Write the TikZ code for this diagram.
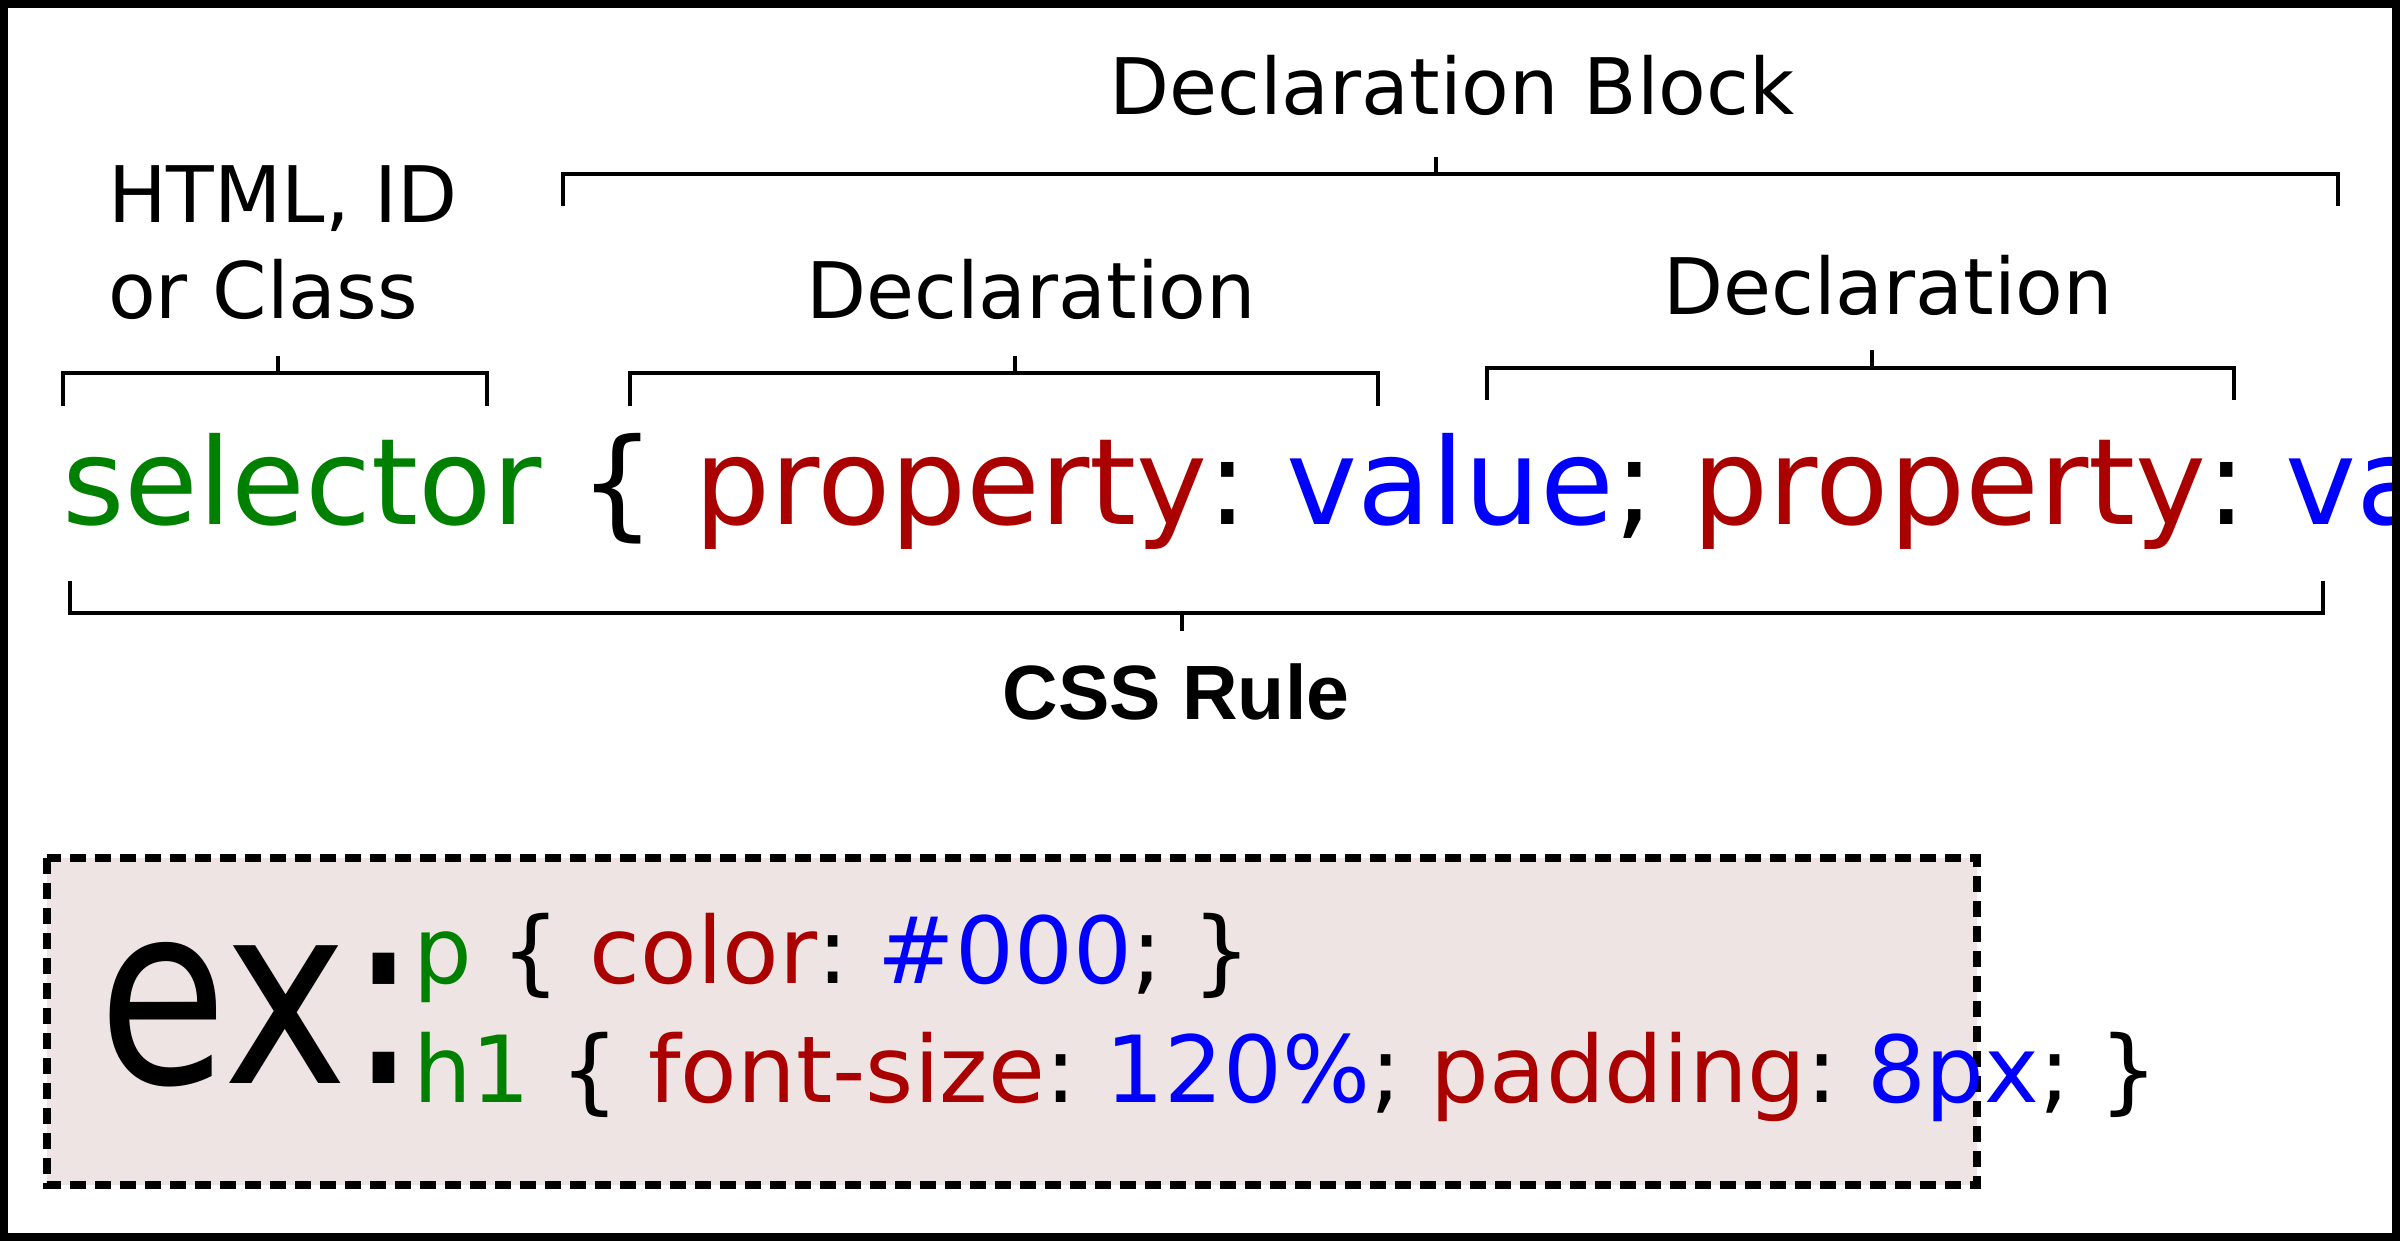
\documentclass[tikz,border=0pt]{standalone}
\usepackage{fontspec}
\setmainfont{DejaVu Sans}
\newfontfamily\rulefont{Liberation Sans}
\definecolor{selgreen}{HTML}{008000}
\definecolor{propred}{HTML}{AA0000}
\definecolor{valblue}{HTML}{0000FF}
\definecolor{boxfill}{HTML}{EEE4E4}
\newcommand{\csssel}[1]{\textcolor{selgreen}{#1}}
\newcommand{\cssprop}[1]{\textcolor{propred}{#1}}
\newcommand{\cssval}[1]{\textcolor{valblue}{#1}}
\frenchspacing
\begin{document}
\begin{tikzpicture}[x=1pt, y=-1pt,
    brk/.style={line width=3.5pt},
    lbl/.style={inner sep=0pt, anchor=base, font=\fontsize{78}{94}\selectfont},
    code/.style={inner sep=0pt, anchor=base west, font=\fontsize{92.5}{111}\selectfont}]
    \useasboundingbox (0,0) rectangle (2400,1241);
    \clip (0,0) rectangle (2400,1241);
    \fill[white] (0,0) rectangle (2400,1241);
    % brackets
    \draw[brk] (563,206) -- (563,174) -- (2338,174) -- (2338,206);
    \draw[brk] (1436,174) -- (1436,157);
    \draw[brk] (63,406) -- (63,373) -- (487,373) -- (487,406);
    \draw[brk] (278,373) -- (278,356);
    \draw[brk] (630,406) -- (630,373) -- (1378,373) -- (1378,406);
    \draw[brk] (1015,373) -- (1015,356);
    \draw[brk] (1487,400) -- (1487,368) -- (2234,368) -- (2234,400);
    \draw[brk] (1872,368) -- (1872,350);
    \draw[brk] (70,581) -- (70,613) -- (2323,613) -- (2323,581);
    \draw[brk] (1182,613) -- (1182,631);
    % labels
    \node[lbl] (block) at (1452,115) {Declaration Block};
    \node[lbl, anchor=base west] (htmlid) at (108,223) {HTML, ID};
    \node[lbl, anchor=base west] (orclass) at (108,318) {or Class};
    \node[lbl] (decla) at (1031,318) {Declaration};
    \node[lbl] (declb) at (1888,314) {Declaration};
    \node[inner sep=0pt, anchor=base west, font=\fontsize{120}{144}\selectfont] (rule) at (62,524)
        {\csssel{selector} \{ \cssprop{property}: \cssval{value}; \cssprop{property}: \cssval{va}};
    \node[inner sep=0pt, anchor=base, font=\rulefont\bfseries\fontsize{77}{92}\selectfont] (rulename) at (1176,719) {CSS Rule};
    % example box
    \draw[line width=8pt, dash pattern=on 16pt off 9pt, fill=boxfill] (47,858) rectangle (1977,1185);
    \node[inner sep=0pt, anchor=base west, font=\fontsize{210}{250}\selectfont] (ex) at (98,1083) {\scalebox{1}[1.2]{ex:}};
    \node[code] (pline) at (413,983) {\csssel{p} \{ \cssprop{color}: \cssval{\#000}; \}};
    \node[code] (hline) at (413,1102) {\csssel{h1} \{ \cssprop{font-size}: \cssval{120\%}; \cssprop{padding}: \cssval{8px}; \}};
    % frame
    \draw[line width=8pt] (4,4) rectangle (2396,1237);
\end{tikzpicture}
\end{document}
